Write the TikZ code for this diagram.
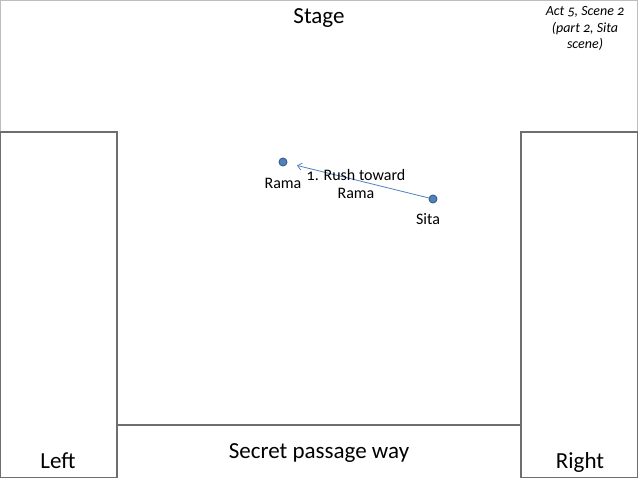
\documentclass[tikz,border=0pt]{standalone}
\usepackage{fontspec}
\setmainfont{Carlito}[Numbers=OldStyle]
\usepackage{tikz}
\usetikzlibrary{arrows.meta, positioning}

\definecolor{dotblue}{HTML}{4F81BD}
\definecolor{dotedge}{HTML}{385D8A}
\definecolor{wallgray}{HTML}{6E6E6E}
\definecolor{framegray}{HTML}{BDBDBD}

\begin{document}
\begin{tikzpicture}[x=1pt, y=-1pt,
    actor/.style={circle, fill=dotblue, draw=dotedge, line width=0.9pt, inner sep=0pt, minimum size=8pt},
    wall/.style={draw=wallgray, line width=1.2pt},
    big/.style={font=\fontsize{23}{28}\selectfont, anchor=base},
    small/.style={font=\fontsize{16}{18}\selectfont, anchor=base}]
    \useasboundingbox (0,0) rectangle (638,478);

    % Stage
    \draw[framegray, line width=1.2pt] (0.6,132) -- (0.6,0.6) -- (637.4,0.6) -- (637.4,132);
    \node[big] (stage) at (319,24) {Stage};
    \node[font=\fontsize{14}{16.5}\selectfont\itshape, align=center, anchor=north] (scene) at (585,3) {Act 5, Scene 2\\(part 2, Sita\\scene)};

    % Wings and passage
    \draw[wall] (0.6,132) rectangle (117,477.4);
    \draw[wall] (521,132) rectangle (637.4,477.4);
    \draw[wall] (117,425) -- (521,425);
    \node[big] (left) at (58,469) {Left};
    \node[big] (right) at (580,469) {Right};
    \node[big] (passage) at (319,459) {Secret passage way};

    % Actors
    \node[actor] (rama) at (283,162) {};
    \node[actor] (sita) at (433,199) {};
    \node[small] (ramalabel) at (283,189) {Rama};
    \node[small] (sitalabel) at (428,225) {Sita};
    \draw[dotblue, line width=0.8pt, -{Straight Barb[length=4pt, width=7pt]}, shorten >=10pt] (sita) -- (rama);
    \node[small, align=center, anchor=base] (move) at (356,199) {1. Rush toward\\Rama};
\end{tikzpicture}
\end{document}
